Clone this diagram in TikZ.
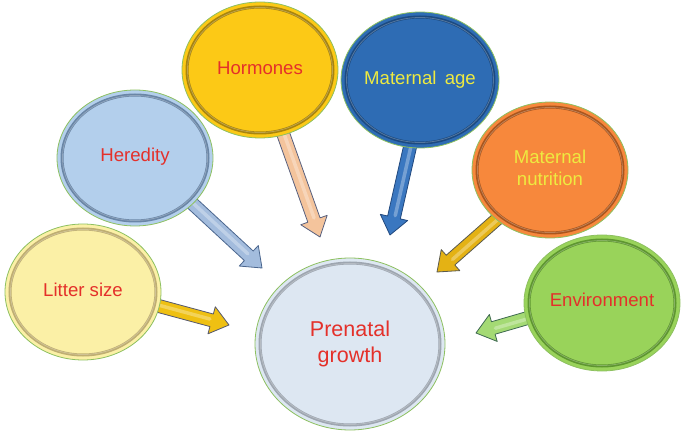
\documentclass[tikz,border=0pt]{standalone}
\usepackage{fontspec}
\setmainfont{Liberation Sans}
\usetikzlibrary{shapes.geometric,calc,backgrounds}
\definecolor{txtred}{HTML}{E4302A}
\definecolor{txtyel}{HTML}{EEEA40}
\definecolor{edgegreen}{HTML}{8DC060}
\definecolor{litterfill}{HTML}{FBF0A6}
\definecolor{litterring}{HTML}{BFAE72}
\definecolor{herfill}{HTML}{B3CFEC}
\definecolor{herring}{HTML}{6A86A6}
\definecolor{horfill}{HTML}{FCC916}
\definecolor{horring}{HTML}{A8840E}
\definecolor{agefill}{HTML}{2E6CB4}
\definecolor{agering}{HTML}{1C4A80}
\definecolor{nutfill}{HTML}{F7883C}
\definecolor{nutring}{HTML}{A9561E}
\definecolor{envfill}{HTML}{99D35A}
\definecolor{envring}{HTML}{5E9630}
\definecolor{prefill}{HTML}{DDE7F2}
\definecolor{prering}{HTML}{9EA6B0}
\definecolor{aLfill}{HTML}{EFC012}\definecolor{aLdraw}{HTML}{55586E}
\definecolor{aHfill}{HTML}{A3BCDD}\definecolor{aHdraw}{HTML}{4B668E}
\definecolor{aOfill}{HTML}{F4C49C}\definecolor{aOdraw}{HTML}{58607E}
\definecolor{aAfill}{HTML}{3A77C0}\definecolor{aAdraw}{HTML}{22497E}
\definecolor{aNfill}{HTML}{E4B214}\definecolor{aNdraw}{HTML}{5A5A4E}
\definecolor{aEfill}{HTML}{A4DA74}\definecolor{aEdraw}{HTML}{3E6A50}
\tikzset{
  bubble/.style n args={3}{ellipse, minimum width=156pt, minimum height=136pt,
    fill=#1, draw=edgegreen, line width=0.8pt, text=#3, align=center, inner sep=0pt,
    font=\fontsize{18.6}{22.5}\selectfont,
    path picture={
      \draw[line width=3pt,#2] let \p1=($(path picture bounding box.north east)-(path picture bounding box.center)$) in
        (path picture bounding box.center) ellipse [x radius=\x1-5pt, y radius=\y1-5pt];
      \draw[line width=0.8pt,white,opacity=0.25] let \p1=($(path picture bounding box.north east)-(path picture bounding box.center)$) in
        (path picture bounding box.center) ellipse [x radius=\x1-5.5pt, y radius=\y1-5.5pt];
    }},
  fatarrow/.style n args={2}{fill=#1, draw=#2, line width=0.8pt, line join=round},
}
\newcommand\fatarrow[3]{%
  \draw[#3] let \p1=(#1), \p2=(#2), \n1={atan2(\y2-\y1,\x2-\x1)} in
    ($(\p1)+(\n1+90:6.5pt)$) -- ($(\p2)+(\n1:-18pt)+(\n1+90:6.5pt)$)
    -- ($(\p2)+(\n1:-18pt)+(\n1+90:14pt)$) -- (\p2)
    -- ($(\p2)+(\n1:-18pt)+(\n1-90:14pt)$) -- ($(\p2)+(\n1:-18pt)+(\n1-90:6.5pt)$)
    -- ($(\p1)+(\n1-90:6.5pt)$) -- cycle;
  \draw[white,opacity=0.3,line width=3.5pt,line cap=round] let \p1=(#1), \p2=(#2), \n1={atan2(\y2-\y1,\x2-\x1)} in
    ($(\p1)+(\n1+90:0.8pt)$) -- ($(\p2)+(\n1:-20pt)+(\n1+90:0.8pt)$);
}
\begin{document}
\begin{tikzpicture}[x=1pt,y=1pt]
\useasboundingbox (0,0) rectangle (685,434);
\node[bubble={horfill}{horring}{txtred}] (hormones) at (260,364) {\raisebox{4pt}{Hormones}};
\node[bubble={herfill}{herring}{txtred}] (heredity) at (135,276) {\raisebox{6pt}{Heredity}};
\node[bubble={litterfill}{litterring}{txtred}] (litter) at (83,142) {\raisebox{5pt}{Litter size}};
\node[bubble={agefill}{agering}{txtyel}] (age) at (420,354) {\raisebox{5pt}{Maternal\, age}};
\node[bubble={nutfill}{nutring}{txtyel}] (nutrition) at (550,264) {\raisebox{5pt}{\begin{tabular}{@{}c@{}}Maternal\\nutrition\end{tabular}}};
\node[bubble={envfill}{envring}{txtred}] (environment) at (602,131) {\raisebox{6pt}{Environment}};
\node[bubble={prefill}{prering}{txtred}, minimum width=190pt, minimum height=172pt,
  font=\fontsize{21.5}{26}\selectfont] (prenatal) at (350,90)
  {\raisebox{6pt}{\begin{tabular}{@{}c@{}}Prenatal\\growth\end{tabular}}};
\coordinate (tipL) at (229,109);
\coordinate (tipH) at (262,166);
\coordinate (tipO) at (320,197);
\coordinate (tipA) at (390,199);
\coordinate (tipN) at (437,162);
\coordinate (tipE) at (476,101);
\begin{scope}[on background layer]
\fatarrow{$(litter.-10)!8pt!(litter.center)$}{tipL}{fatarrow={aLfill}{aLdraw}}
\fatarrow{$(heredity.-38)!8pt!(heredity.center)$}{tipH}{fatarrow={aHfill}{aHdraw}}
\fatarrow{$(hormones.-70)!8pt!(hormones.center)$}{tipO}{fatarrow={aOfill}{aOdraw}}
\fatarrow{$(age.-98)!8pt!(age.center)$}{tipA}{fatarrow={aAfill}{aAdraw}}
\fatarrow{$(nutrition.-137)!8pt!(nutrition.center)$}{tipN}{fatarrow={aNfill}{aNdraw}}
\fatarrow{$(environment.191)!8pt!(environment.center)$}{tipE}{fatarrow={aEfill}{aEdraw}}
\end{scope}
\end{tikzpicture}
\end{document}
